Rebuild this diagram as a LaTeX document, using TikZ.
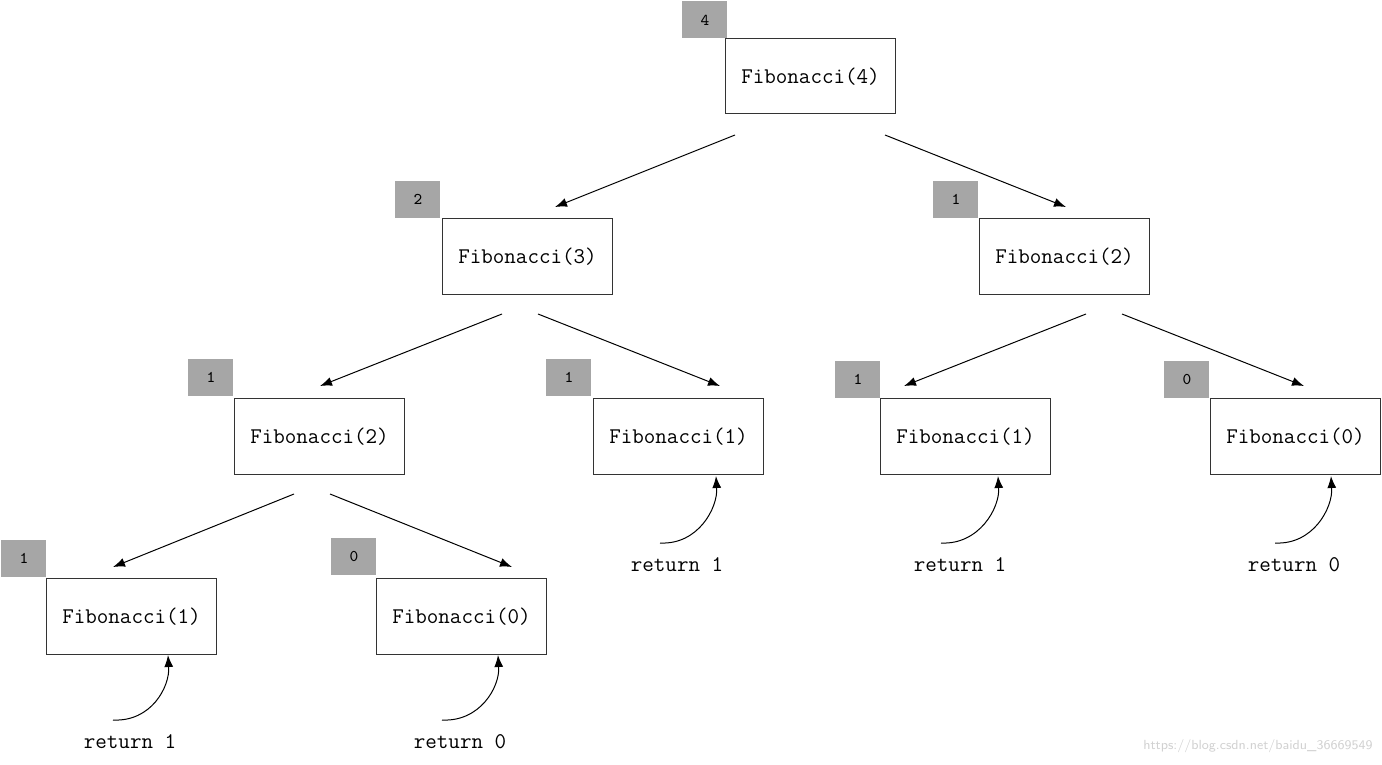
\documentclass[tikz,border=0pt]{standalone}
\usetikzlibrary{arrows.meta,calc}
\begin{document}
\begin{tikzpicture}[x=0.5pt,y=-0.5pt,
  fib/.style={draw, line width=0.5pt, draw=black!80, anchor=north west, minimum width=85pt, minimum height=37.75pt, inner sep=0pt, font=\ttfamily\fontsize{11.2}{13}\selectfont},
  tag/.style={fill=black!35, anchor=north west, minimum width=22.5pt, minimum height=18.5pt, inner sep=0pt, font=\ttfamily\fontsize{8.2}{9}\selectfont},
  ret/.style={font=\ttfamily\fontsize{11.2}{13}\selectfont, inner sep=0pt},
  arr/.style={-{Latex[length=6pt,width=4.5pt]}, line width=0.5pt},
]
\useasboundingbox (0,0) rectangle (1382,765);
% boxes
\node[fib] (f4) at (725,38) {Fibonacci(4)};
\node[tag] (t4) at (682,1) {4};
\node[fib] (f3) at (442,218) {Fibonacci(3)};
\node[tag] (t3) at (395,181) {2};
\node[fib] (f2r) at (979,218) {Fibonacci(2)};
\node[tag] (t2r) at (933,181) {1};
\node[fib] (f2l) at (234,398) {Fibonacci(2)};
\node[tag] (t2l) at (188,359) {1};
\node[fib] (f1m) at (593,398) {Fibonacci(1)};
\node[tag] (t1m) at (546,359) {1};
\node[fib] (f1r) at (880,398) {Fibonacci(1)};
\node[tag] (t1r) at (835,361) {1};
\node[fib] (f0r) at (1210,398) {Fibonacci(0)};
\node[tag] (t0r) at (1164,361) {0};
\node[fib] (f1l) at (46,578) {Fibonacci(1)};
\node[tag] (t1l) at (1,540) {1};
\node[fib] (f0l) at (376,578) {Fibonacci(0)};
\node[tag] (t0l) at (331,538) {0};
% return labels
\node[ret] (r1l) at (130,742) {return 1};
\node[ret] (r0l) at (460,742) {return 0};
\node[ret] (r1m) at (677,565) {return 1};
\node[ret] (r1r) at (960,565) {return 1};
\node[ret] (r0r) at (1294,565) {return 0};
% connector endpoints
\coordinate (a1) at (735,135); \coordinate (b1) at (555,207);
\coordinate (a2) at (885,135); \coordinate (b2) at (1066,207);
\coordinate (a3) at (502,314); \coordinate (b3) at (320,386);
\coordinate (a4) at (538,314); \coordinate (b4) at (720,386);
\coordinate (a5) at (1086,314); \coordinate (b5) at (904,386);
\coordinate (a6) at (1122,314); \coordinate (b6) at (1304,386);
\coordinate (a7) at (294,494); \coordinate (b7) at (113,567);
\coordinate (a8) at (330,494); \coordinate (b8) at (512,567);
\foreach \i in {1,...,8} {\draw[arr] (a\i) -- (b\i);}
% return curves
\coordinate (c1) at (113,720); \coordinate (d1) at (168,655);
\coordinate (c2) at (442,720); \coordinate (d2) at (498,655);
\coordinate (c3) at (660,543); \coordinate (d3) at (716,476);
\coordinate (c4) at (941,543); \coordinate (d4) at (998,476);
\coordinate (c5) at (1275,543); \coordinate (d5) at (1331,476);
\foreach \i in {1,...,5} {\draw[arr] (c\i) .. controls ($(c\i)+(38,2)$) and ($(d\i)+(2,32)$) .. (d\i);}
% watermark
\node[font=\sffamily\fontsize{6.6}{8}\selectfont, text=black!18, anchor=east, inner sep=0pt] (wm) at (1373,746) {https://blog.csdn.net/baidu\_36669549};
\end{tikzpicture}
\end{document}
